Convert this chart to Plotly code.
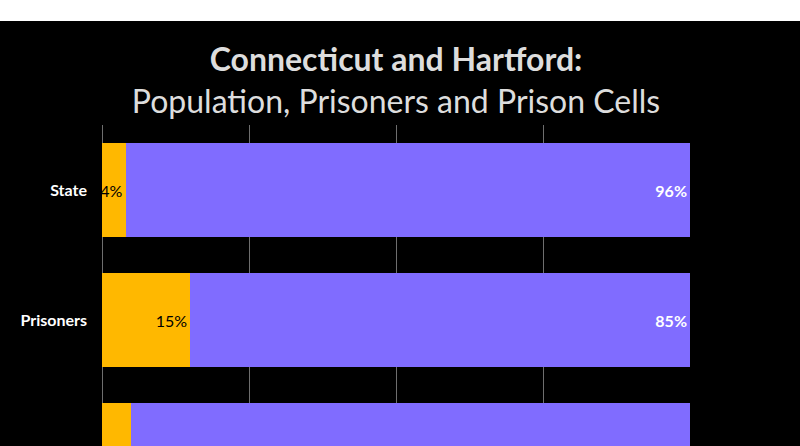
import plotly.graph_objects as go

categories = ["State", "Prisoners", "Prison Cells"]
hartford = [4, 15, 5]
rest_of_state = [96, 85, 95]
x_ticks = [0, 25, 50, 75, 100]

ORANGE = "#FFB800"
PURPLE = "#806CFF"
FONT = "Lato"

fig = go.Figure()
fig.add_trace(go.Bar(
    y=categories, x=hartford, orientation="h", name="Hartford",
    marker=dict(color=ORANGE, line=dict(width=0)),
    texttemplate="%{x}%", textposition="inside", insidetextanchor="end",
    constraintext="none", textangle=0,
    textfont=dict(family=FONT, size=16, color="black"),
))
fig.add_trace(go.Bar(
    y=categories, x=rest_of_state, orientation="h", name="Rest of State",
    marker=dict(color=PURPLE, line=dict(width=0)),
    texttemplate="<b>%{x}%</b>", textposition="inside", insidetextanchor="end",
    constraintext="none", textangle=0,
    textfont=dict(family=FONT, size=16, color="white"),
))

fig.update_layout(
    width=800, height=446,
    barmode="stack", bargap=0.27,
    paper_bgcolor="black", plot_bgcolor="black",
    showlegend=False,
    margin=dict(l=102, r=110, t=125, b=0),
    font=dict(family=FONT, color="white"),
    title=dict(
        text="<b>Connecticut and Hartford:</b><br>Population, Prisoners and Prison Cells",
        x=0.5, xanchor="center", xref="paper",
        y=0.84, yanchor="top", yref="container",
        font=dict(family=FONT, size=32, color="#dddddd"),
    ),
    shapes=[dict(
        type="rect", xref="paper", yref="paper",
        x0=-1, x1=2, ysizemode="pixel", yanchor=1, y0=104, y1=300,
        fillcolor="white", line=dict(width=0), layer="above",
    )],
)
fig.update_xaxes(
    range=[0, 100], tickvals=x_ticks, showticklabels=False,
    showgrid=True, gridcolor="#6e6e6e", gridwidth=1,
    zeroline=True, zerolinecolor="#6e6e6e", zerolinewidth=1,
    fixedrange=True,
)
fig.update_yaxes(
    range=[1.969, -0.5], showgrid=False, zeroline=False,
    tickfont=dict(family=FONT, size=16, color="white", weight="bold"),
    ticklabelstandoff=14, ticks="",
)

# page has a default 8px body margin; drop it so the chart sits at the corner
fig.write_html("out.html", config={"displayModeBar": False},
               post_script="document.body.style.margin='0';")
